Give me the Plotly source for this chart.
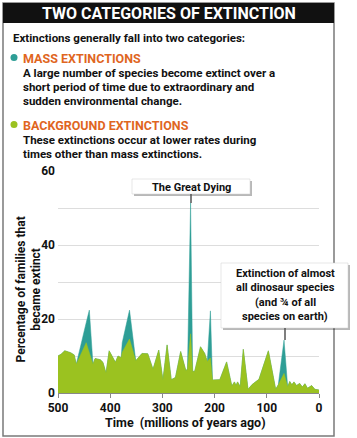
import plotly.graph_objects as go

# ---------------- data ----------------
time_mya = [500, 494, 487, 476, 469, 465, 446, 440, 433, 429, 419, 414, 408, 402,
            394, 390, 385, 379, 377, 363, 351, 339, 328, 318, 307, 299, 291, 283,
            275, 265, 255, 252, 246, 242, 238, 227, 219, 214, 208, 204, 190, 177,
            167, 162, 159, 156, 151, 145, 136, 128, 115, 97, 83, 78, 67, 60, 56,
            52, 48, 43, 37, 32, 27, 22, 14, 8, 0]
background_pct = [10.0, 10.5, 11.4, 10.9, 10.3, 7.8, 13.6, 11.0, 7.8, 9.3, 9.0, 8.3, 5.4, 11.4,
                  9.3, 8.3, 10.0, 9.5, 11.0, 14.6, 8.7, 10.7, 10.6, 6.4, 11.6, 3.5, 13.0, 3.6,
                  4.2, 11.2, 6.0, 6.5, 16.0, 5.8, 5.9, 12.5, 10.7, 8.5, 9.5, 3.5, 3.6, 8.4,
                  1.9, 3.0, 2.0, 3.0, 1.7, 11.8, 1.0, 2.3, 3.7, 11.4, 1.0, 2.2, 5.3, 1.7, 3.1,
                  2.2, 3.0, 2.0, 2.6, 1.6, 2.5, 1.3, 2.0, 1.0, 0.8]
total_pct = [10.0, 10.5, 11.4, 10.9, 10.3, 7.8, 19.0, 22.4, 7.8, 9.3, 9.0, 8.3, 5.4, 11.4,
             9.3, 8.3, 10.0, 9.5, 13.6, 22.4, 8.7, 10.7, 10.6, 6.4, 11.6, 3.5, 13.0, 3.6,
             4.2, 11.2, 6.0, 6.5, 51.4, 5.8, 5.9, 12.5, 10.7, 8.5, 22.2, 3.5, 3.6, 8.4,
             1.9, 3.0, 2.0, 3.0, 1.7, 11.8, 1.0, 2.3, 3.7, 11.4, 1.0, 2.2, 14.3, 1.7, 3.1,
             2.2, 3.0, 2.0, 2.6, 1.6, 2.5, 1.3, 2.0, 1.0, 0.8]
x_ticks = [500, 400, 300, 200, 100, 0]
y_ticks = [0, 10, 20, 30, 40, 50, 60]
y_tick_labels = ["0", "", "20", "", "40", "", "60"]

TEAL = "#2E9E96"
GREEN = "#9BC220"
ORANGE = "#E0661F"
FONT = "Roboto"

W, H = 357, 438
L, R, T, B = 58, 319, 171, 393  # plot area in pixels


def fx(p):
    return (p - L) / (R - L)


def fy(p):
    return (B - p) / (B - T)


fig = go.Figure()
fig.add_trace(go.Scatter(x=time_mya, y=total_pct, mode="lines", fill="tozeroy",
                         line=dict(color=TEAL, width=0.5), fillcolor=TEAL,
                         hoverinfo="skip", showlegend=False))
fig.add_trace(go.Scatter(x=time_mya, y=background_pct, mode="lines", fill="tozeroy",
                         line=dict(color=GREEN, width=0.5), fillcolor=GREEN,
                         hoverinfo="skip", showlegend=False))

shapes = []
# outer frame
shapes.append(dict(type="rect", xref="paper", yref="paper", x0=fx(3), x1=fx(334),
                   y0=fy(436), y1=fy(3), line=dict(color="#7a7a7a", width=1.5),
                   fillcolor="rgba(0,0,0,0)", layer="below"))
# title bar
shapes.append(dict(type="rect", xref="paper", yref="paper", x0=fx(3), x1=fx(334),
                   y0=fy(23), y1=fy(3), line=dict(width=0), fillcolor="#111111"))
# legend dots
shapes.append(dict(type="circle", xref="paper", yref="paper", x0=fx(10.5), x1=fx(17.5),
                   y0=fy(61), y1=fy(54), line=dict(width=0), fillcolor=TEAL))
shapes.append(dict(type="circle", xref="paper", yref="paper", x0=fx(10.5), x1=fx(17.5),
                   y0=fy(128), y1=fy(121), line=dict(width=0), fillcolor=GREEN))


def callout(x0, y0, x1, y1, lx, ly0, ly1):
    shapes.append(dict(type="rect", xref="paper", yref="paper", x0=fx(x0 + 2), x1=fx(x1 + 2),
                       y0=fy(y1 + 2), y1=fy(y0 + 2), line=dict(width=0),
                       fillcolor="rgba(0,0,0,0.28)"))
    shapes.append(dict(type="rect", xref="paper", yref="paper", x0=fx(x0), x1=fx(x1),
                       y0=fy(y1), y1=fy(y0), line=dict(color="#cccccc", width=0.5),
                       fillcolor="white"))
    shapes.append(dict(type="line", xref="paper", yref="paper", x0=fx(lx), x1=fx(lx),
                       y0=fy(ly0), y1=fy(ly1), line=dict(color="#555555", width=1.5)))


callout(132, 179, 250, 194, 191, 194, 203)
callout(221, 263, 348, 328, 285, 328, 340)

ann = []


def text(px, py, s, size, color="#111111", anchor="left"):
    ann.append(dict(x=fx(px), y=fy(py), xref="paper", yref="paper", text=s,
                    showarrow=False, xanchor=anchor, yanchor="middle",
                    font=dict(family=FONT, size=size, color=color, weight=700)))


text(168.5, 13.5, "TWO CATEGORIES OF EXTINCTION", 16, "white", "center")
text(11, 38, "Extinctions generally fall into two categories:", 11.5)
text(21, 58.5, "MASS EXTINCTIONS", 12.5, ORANGE)
text(21, 73, "A large number of species become extinct over a", 11.5)
text(21, 87, "short period of time due to extraordinary and", 11.5)
text(21, 100.5, "sudden environmental change.", 11.5)
text(21, 125.5, "BACKGROUND EXTINCTIONS", 12.5, ORANGE)
text(21, 140, "These extinctions occur at lower rates during", 11.5)
text(21, 154, "times other than mass extinctions.", 11.5)
text(191, 187, "The Great Dying", 11, anchor="center")
text(285, 273, "Extinction of almost", 11, anchor="center")
text(285, 287.5, "all dinosaur species", 11, anchor="center")
text(285, 302, "(and ¾ of all", 11, anchor="center")
text(285, 316.5, "species on earth)", 11, anchor="center")
text(185, 422, "Time  (millions of years ago)", 12.5, anchor="center")
ann.append(dict(x=fx(28.5), y=fy(290), xref="paper", yref="paper",
                text="Percentage of families that<br>became extinct",
                showarrow=False, textangle=-90, xanchor="center", yanchor="middle",
                font=dict(family=FONT, size=12, color="#111111", weight=700)))

fig.update_layout(
    width=W, height=H,
    margin=dict(l=L, r=W - R, t=T, b=H - B, pad=0),
    paper_bgcolor="white", plot_bgcolor="white",
    shapes=shapes, annotations=ann,
    font=dict(family=FONT, color="#111111"),
    showlegend=False,
    xaxis=dict(range=[500, 0], tickvals=x_ticks,
               showgrid=False, zeroline=False, showline=True, linecolor="#888888",
               linewidth=1, ticks="outside", ticklen=4, tickcolor="#888888",
               tickfont=dict(family=FONT, size=12, color="#111111", weight=700)),
    yaxis=dict(range=[0, 60], tickvals=y_ticks, ticktext=y_tick_labels,
               showgrid=True, gridcolor="#dddddd", gridwidth=1, zeroline=False,
               showline=False, ticks="", ticklabelstandoff=2,
               tickfont=dict(family=FONT, size=12, color="#111111", weight=700)),
)

fig.write_html("out.html", config={"displayModeBar": False},
               post_script="document.body.style.margin='0px';document.body.style.padding='0px';")
